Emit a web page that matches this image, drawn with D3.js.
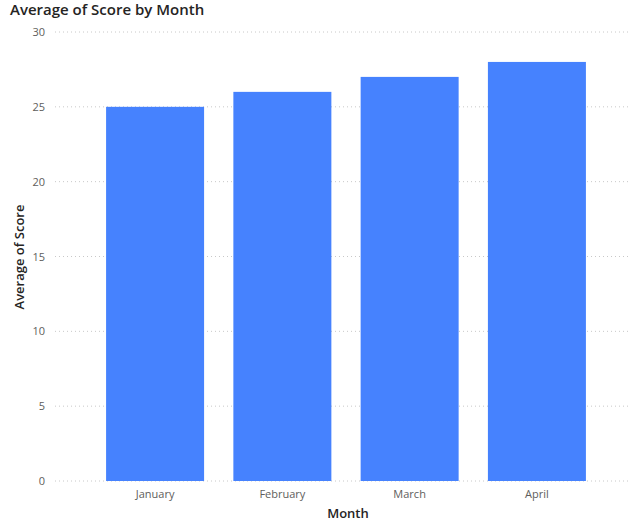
<!DOCTYPE html>
<html><head><meta charset="utf-8">
<script src="https://cdn.jsdelivr.net/npm/d3@7"></script>
<style>body{margin:0;background:#fff}</style>
</head><body>
<svg id="c" width="635" height="530"></svg>
<script>
const months = ["January","February","March","April"];
const scores = [25,26,27,28];
const yTicks = [0,5,10,15,20,25,30];

const svg = d3.select("#c");
const font = "'Open Sans', sans-serif";
const x = d3.scaleBand().domain(months).range([59,633]).paddingInner(0.23).paddingOuter(0.37);
const y = d3.scaleLinear().domain([0,30]).range([481,32]);

svg.append("text").attr("x",10).attr("y",15).attr("font-family",font).attr("font-size",15)
  .attr("font-weight",600).attr("fill","#252423").text("Average of Score by Month");

svg.append("g").selectAll("line").data(yTicks).join("line")
  .attr("x1",55).attr("x2",630).attr("y1",d=>y(d)).attr("y2",d=>y(d))
  .attr("stroke","#c8c8c8").attr("stroke-dasharray","1,3");

svg.append("g").selectAll("text").data(yTicks).join("text")
  .attr("x",45).attr("y",d=>y(d)+4).attr("text-anchor","end")
  .attr("font-family",font).attr("font-size",11).attr("fill","#605e5c").text(d=>d);

svg.append("g").selectAll("rect").data(months).join("rect")
  .attr("x",d=>x(d)).attr("width",x.bandwidth())
  .attr("y",(d,i)=>y(scores[i])).attr("height",(d,i)=>y(0)-y(scores[i]))
  .attr("fill","#4682FE");

svg.append("g").selectAll("text").data(months).join("text")
  .attr("x",d=>x(d)+x.bandwidth()/2).attr("y",498).attr("text-anchor","middle")
  .attr("font-family",font).attr("font-size",11).attr("fill","#605e5c").text(d=>d);

svg.append("text").attr("x",348).attr("y",518).attr("text-anchor","middle")
  .attr("font-family",font).attr("font-size",13).attr("font-weight",600).attr("fill","#252423").text("Month");
svg.append("text").attr("transform","translate(24,257) rotate(-90)").attr("text-anchor","middle")
  .attr("font-family",font).attr("font-size",13).attr("font-weight",600).attr("fill","#252423").text("Average of Score");
</script>
</body></html>
